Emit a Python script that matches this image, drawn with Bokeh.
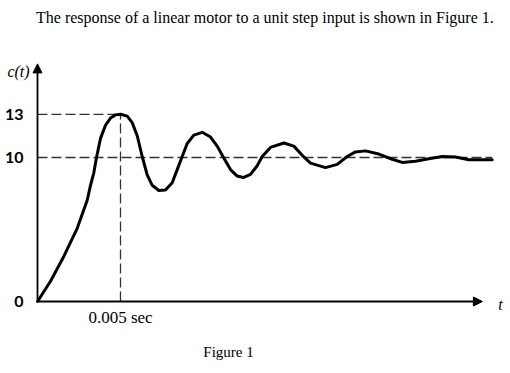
from bokeh.plotting import figure
from bokeh.models import Range1d, FixedTicker, Arrow, NormalHead
from bokeh.core.properties import value
from bokeh.embed import file_html
from bokeh.resources import INLINE

# Step response: time in ms, c(t)
t_ms = [0.0, 0.783, 1.584, 2.392, 2.994, 3.193, 3.392, 3.554, 3.795, 4.096, 4.398, 4.699,
        5.0, 5.404, 5.705, 6.006, 6.307, 6.608, 6.910, 7.307, 7.711, 8.114, 8.416, 8.717,
        9.018, 9.416, 9.922, 10.422, 10.825, 11.223, 11.627, 12.030, 12.392, 12.831,
        13.235, 13.536, 14.036, 14.837, 15.440, 15.946, 16.446, 17.349, 18.054, 18.657,
        19.157, 19.759, 20.560, 21.367, 21.970, 22.771, 23.572, 24.380, 25.181, 25.982,
        26.789, 27.392]
c_vals = [0.0, 1.41, 3.13, 5.08, 7.03, 8.06, 8.94, 10.0, 11.33, 12.24, 12.74, 12.96,
          13.0, 12.87, 12.42, 11.51, 10.07, 8.79, 8.07, 7.71, 7.74, 8.25, 9.16, 10.07,
          10.97, 11.55, 11.75, 11.42, 10.79, 9.97, 9.16, 8.71, 8.61, 8.83,
          9.43, 10.07, 10.70, 11.01, 10.79, 10.15, 9.61, 9.30, 9.52, 10.07,
          10.39, 10.46, 10.24, 9.88, 9.66, 9.74, 9.92, 10.07, 10.03, 9.85,
          9.85, 9.85]

y_ticks = [0, 10, 13]
x_ticks = [5]                      # ms
x_tick_labels = {5: "0.005 sec"}
peak_t, peak_c, final_c = 5.0, 13.0, 10.0

title_text = "The response of a linear motor to a unit step input is shown in Figure 1."
caption_text = "Figure 1"
y_name, x_name = "c(t)", "t"

# data extent of the drawing area (ms, c) and axis arrow ends
x_start, x_end = -2.229, 28.494
y_start, y_end = -5.0, 20.903
x_arrow_end, y_arrow_end = 26.8, 16.5

p = figure(width=510, height=373, output_backend="svg", toolbar_location=None,
           x_range=Range1d(x_start, x_end), y_range=Range1d(y_start, y_end),
           min_border=0, min_border_left=0, min_border_right=0,
           min_border_top=0, min_border_bottom=0,
           background_fill_color="white", border_fill_color="white")
p.outline_line_color = None
p.grid.visible = False

# axes drawn through the origin
for ax in (p.xaxis, p.yaxis):
    ax.fixed_location = 0
    ax.axis_line_color = None
    ax.major_tick_line_color = None
    ax.minor_tick_line_color = None
    ax.major_tick_out = 0
    ax.major_tick_in = 0
    ax.minor_tick_out = 0
    ax.minor_tick_in = 0
    ax.axis_label_standoff = 0
    ax.major_label_text_color = "black"

p.yaxis.ticker = FixedTicker(ticks=y_ticks)
p.yaxis.major_label_text_font = "Lato"
p.yaxis.major_label_text_font_style = "bold"
p.yaxis.major_label_text_font_size = "16px"
p.yaxis.major_label_standoff = 14

p.xaxis.ticker = FixedTicker(ticks=x_ticks)
p.xaxis.major_label_overrides = x_tick_labels
p.xaxis.major_label_text_font = "Liberation Serif"
p.xaxis.major_label_text_font_style = "normal"
p.xaxis.major_label_text_font_size = "17px"
p.xaxis.major_label_standoff = 6

# dashed guide lines
dash = dict(line_color="#333333", line_width=1.3, line_dash="10 4")
p.segment(x0=[0, 0, peak_t], y0=[peak_c, final_c, 0],
          x1=[peak_t, t_ms[-1], peak_t], y1=[peak_c, final_c, peak_c], **dash)

# response curve
p.line(t_ms, c_vals, line_color="black", line_width=3, line_join="round", line_cap="round")

# axis arrows
p.add_layout(Arrow(x_start=0, y_start=0, x_end=0, y_end=y_arrow_end,
                   line_color="black", line_width=1.8,
                   end=NormalHead(size=9, fill_color="black", line_color="black")))
p.add_layout(Arrow(x_start=0, y_start=0, x_end=x_arrow_end, y_end=0,
                   line_color="black", line_width=1.8,
                   end=NormalHead(size=9, fill_color="black", line_color="black")))

# texts
serif = value("Liberation Serif")
p.text(x=[13.70], y=[19.72], text=[title_text], text_align="center",
       text_baseline="middle", text_font=serif, text_font_size="16px", text_color="black")
p.text(x=[11.51], y=[-3.54], text=[caption_text], text_align="center",
       text_baseline="middle", text_font=serif, text_font_size="15px", text_color="black")
p.text(x=[-1.145, 27.89], y=[15.97, -0.21], text=[y_name, x_name], text_align="center",
       text_baseline="middle", text_font=serif, text_font_style="italic",
       text_font_size="16px", text_color="black")

open("out.html", "w").write(file_html(p, INLINE))
